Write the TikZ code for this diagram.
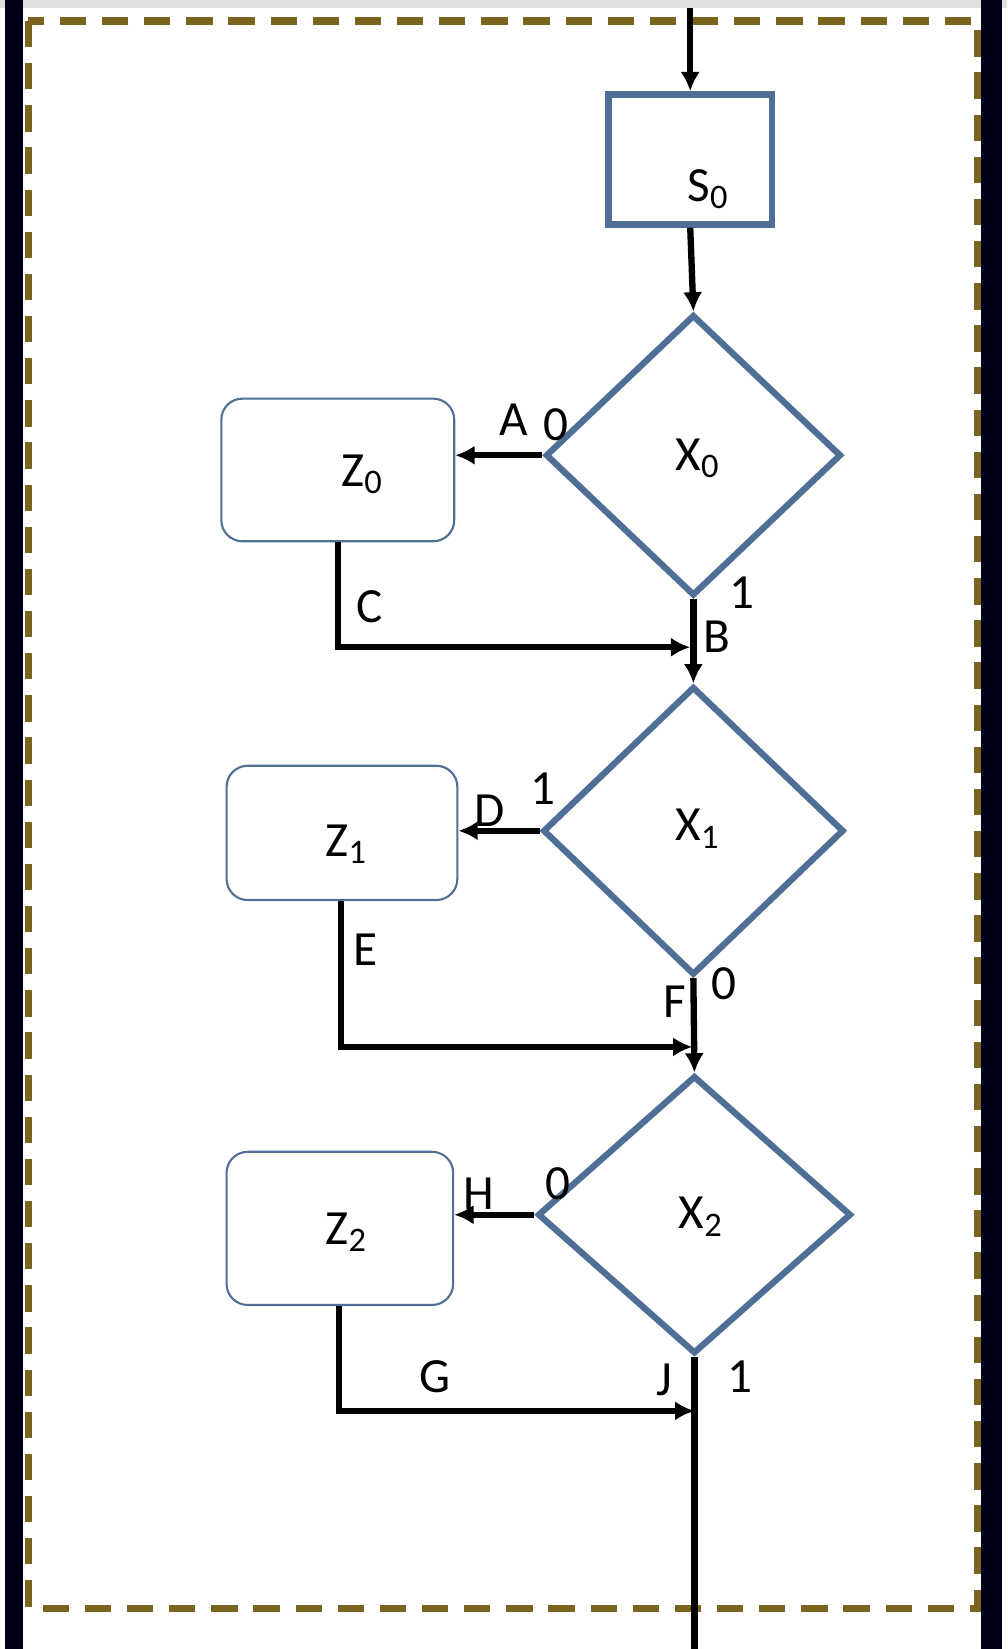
\documentclass[tikz,border=0pt]{standalone}
\usepackage{fontspec}
\setmainfont{Carlito}
\usetikzlibrary{arrows.meta}
\usetikzlibrary{shapes.geometric}
\definecolor{frameblue}{HTML}{4F6F96}
\definecolor{olive}{HTML}{7A6420}
\begin{document}
\begin{tikzpicture}[x=0.021cm, y=-0.021cm,
    >={Latex[length=11pt, width=11pt]},
    flow/.style={line width=3.6pt, black},
    statebox/.style={draw=frameblue, line width=3.6pt, minimum width=156*0.021cm,
      minimum height=124*0.021cm, inner sep=0pt},
    testbox/.style={diamond, draw=frameblue, line width=3.6pt, inner sep=0pt},
    outbox/.style={draw=frameblue, line width=1.2pt, rounded corners=12pt, inner sep=0pt},
    lbl/.style={font=\fontsize{28}{30}\selectfont, inner sep=0pt}]
  \useasboundingbox (0,0) rectangle (960,1572);
  % frame of the page
  \fill[gray!25] (0,0) rectangle (960,8);
  \fill[black!90!blue] (5,0) rectangle (22,1572);
  \fill[black!90!blue] (935,0) rectangle (955,1572);
  \draw[olive, line width=4pt, dash pattern=on 15pt off 9pt] (27,20) rectangle (932,1533);
  % states and tests
  \node[statebox] (s0) at (658,152) {};
  \node[lbl] at (675,180) {S\textsubscript{0}};
  \node[testbox, minimum width=282*0.021cm, minimum height=268*0.021cm] (x0) at (661,434) {};
  \node[testbox, minimum width=287*0.021cm, minimum height=275*0.021cm] (x1) at (661,792) {};
  \node[testbox, minimum width=299*0.021cm, minimum height=265*0.021cm] (x2) at (662,1158) {};
  \node[lbl] at (665,437) {X\textsubscript{0}};
  \node[lbl] at (665,790) {X\textsubscript{1}};
  \node[lbl] at (668,1160) {X\textsubscript{2}};
  \node[outbox, minimum width=222*0.021cm, minimum height=136*0.021cm] (z0) at (322,448) {};
  \node[outbox, minimum width=220*0.021cm, minimum height=128*0.021cm] (z1) at (326,794) {};
  \node[outbox, minimum width=216*0.021cm, minimum height=146*0.021cm] (z2) at (324,1171) {};
  \node[lbl] at (345,452) {Z\textsubscript{0}};
  \node[lbl] at (330,805) {Z\textsubscript{1}};
  \node[lbl] at (330,1175) {Z\textsubscript{2}};
  % joints
  \coordinate (top) at (658,8);
  \coordinate (c0) at (322,617);
  \coordinate (j0) at (658,617);
  \coordinate (c1) at (325,998);
  \coordinate (j1) at (660,998);
  \coordinate (c2) at (323,1345);
  \coordinate (j2) at (662,1345);
  \coordinate (exit) at (662,1572);
  % connectors
  \draw[flow, ->] (top) -- (s0.north);
  \draw[flow, ->] (s0.south) -- (x0.north);
  \draw[flow, ->] (x0.west) -- (z0.east |- x0.west);
  \draw[flow, ->] (z0.south) -- (c0) -- (j0);
  \draw[flow, ->] (x0.south) -- (x1.north);
  \draw[flow, ->] (x1.west) -- (z1.east |- x1.west);
  \draw[flow, ->] (z1.south -| c1) -- (c1) -- (j1);
  \draw[flow, ->] (x1.south) -- (x2.north);
  \draw[flow, ->] (x2.west) -- (z2.east |- x2.west);
  \draw[flow, ->] (z2.south -| c2) -- (c2) -- (j2);
  \draw[flow] (x2.south) -- (exit);
  % labels
  \node[lbl] at (490,400) {A};
  \node[lbl] at (530,405) {0};
  \node[lbl] at (352,578) {C};
  \node[lbl] at (707,565) {1};
  \node[lbl] at (683,607) {B};
  \node[lbl] at (467,773) {D};
  \node[lbl] at (518,752) {1};
  \node[lbl] at (348,905) {E};
  \node[lbl] at (643,955) {F};
  \node[lbl] at (690,938) {0};
  \node[lbl] at (456,1138) {H};
  \node[lbl] at (532,1128) {0};
  \node[lbl] at (415,1312) {G};
  \node[lbl] at (633,1315) {J};
  \node[lbl] at (705,1312) {1};
\end{tikzpicture}
\end{document}
